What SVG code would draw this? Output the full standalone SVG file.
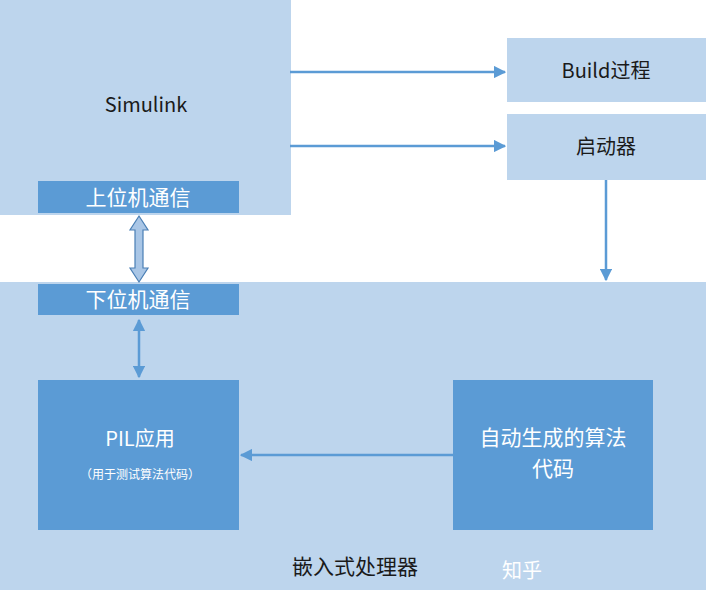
<svg xmlns="http://www.w3.org/2000/svg" width="706" height="600" viewBox="0 0 706 600">
<style>
.lt{fill:#bdd5ed}
.dk{fill:#5b9bd5}
.t{font-family:"Noto Sans CJK SC","Noto Sans",sans-serif;text-anchor:middle}
.w{fill:#fff}
.b{fill:#1a1a1a}
.c{stroke:#5b9bd5;stroke-width:2.5;fill:none}
</style>
<defs>
<marker id="a" viewBox="0 0 10 10" refX="9" refY="5" markerWidth="5" markerHeight="5" orient="auto-start-reverse"><path d="M0,0L10,5L0,10z" fill="#5b9bd5"/></marker>
</defs>
<rect width="706" height="600" fill="#fff"/>
<g id="simulink"><rect class="lt" x="0" y="0" width="291" height="215"/><text class="t b" x="146" y="112" font-size="20">Simulink</text></g>
<g id="shangwei"><rect class="dk" x="38" y="181" width="201" height="32"/><text class="t w" x="138" y="205" font-size="21">上位机通信</text></g>
<g id="build"><rect class="lt" x="507" y="38" width="199" height="64"/><text class="t b" x="606" y="78" font-size="20">Build过程</text></g>
<g id="qidong"><rect class="lt" x="507" y="114" width="199" height="66"/><text class="t b" x="606" y="154" font-size="20">启动器</text></g>
<g id="embedded"><rect class="lt" x="0" y="282" width="706" height="308"/><text class="t b" x="355" y="574" font-size="21">嵌入式处理器</text><text class="t w" x="522" y="578" font-size="20">知乎</text></g>
<g id="xiawei"><rect class="dk" x="38" y="284" width="201" height="31"/><text class="t w" x="138" y="307" font-size="21">下位机通信</text></g>
<g id="pil"><rect class="dk" x="38" y="380" width="201" height="150"/><text class="t w" x="140" y="446" font-size="20">PIL应用</text><text class="t w" x="140" y="479" font-size="12">（用于测试算法代码）</text></g>
<g id="auto"><rect class="dk" x="453" y="380" width="200" height="150"/><text class="t w" x="553" y="445" font-size="21">自动生成的算法</text><text class="t w" x="553" y="476" font-size="21">代码</text></g>
<g id="connectors">
<line class="c" x1="290" y1="72" x2="505" y2="72" marker-end="url(#a)"/>
<line class="c" x1="290" y1="146" x2="505" y2="146" marker-end="url(#a)"/>
<line class="c" x1="606" y1="180" x2="606" y2="280" marker-end="url(#a)"/>
<line class="c" x1="453" y1="455" x2="241" y2="455" marker-end="url(#a)"/>
<line class="c" x1="139" y1="320" x2="139" y2="377" marker-start="url(#a)" marker-end="url(#a)"/>
<path d="M139,216L148,230H143V268H148L139,282L130,268H135V230H130Z" fill="#a9c6e6" stroke="#4a7fb5" stroke-width="1.2"/>
</g>
</svg>
